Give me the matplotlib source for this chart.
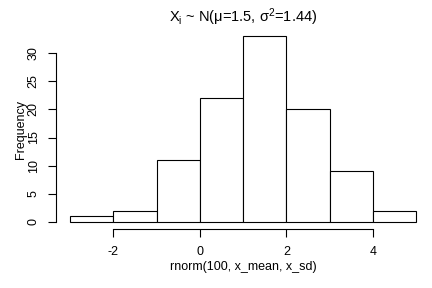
import numpy as np
import matplotlib
matplotlib.use('Agg')
import matplotlib.pyplot as plt

plt.rcParams['font.family'] = ['Liberation Sans', 'DejaVu Sans']
plt.rcParams['mathtext.fontset'] = 'custom'
plt.rcParams['mathtext.rm'] = 'Liberation Sans'
plt.rcParams['mathtext.it'] = 'Liberation Sans'
plt.rcParams['mathtext.sf'] = 'Liberation Sans'
plt.rcParams['axes.unicode_minus'] = False

# Histogram data (bin edges and counts)
BIN_EDGES = [-3, -2, -1, 0, 1, 2, 3, 4, 5]
COUNTS = [1, 2, 11, 22, 33, 20, 9, 2]
X_TICKS = [-2, 0, 2, 4]
Y_TICKS = [0, 5, 10, 15, 20, 25, 30]


def make_fig():
    fig01 = plt.figure(figsize=(4.32, 2.88), dpi=100)
    axs01 = fig01.add_axes([0.1306, 0.2035, 0.8644, 0.6965])

    edges = np.array(BIN_EDGES, dtype=float)
    axs01.bar(edges[:-1], COUNTS, width=np.diff(edges), align='edge',
              facecolor='white', edgecolor='black', linewidth=0.8)

    rng = edges[-1] - edges[0]
    axs01.set_xlim(edges[0] - 0.04*rng, edges[-1] + 0.04*rng)
    ymax = max(COUNTS)
    axs01.set_ylim(-0.04*ymax, ymax*1.04)

    for side in ['top', 'right']:
        axs01.spines[side].set_visible(False)
    axs01.spines['left'].set_bounds(Y_TICKS[0], Y_TICKS[-1])
    axs01.spines['bottom'].set_bounds(X_TICKS[0], X_TICKS[-1])
    axs01.spines['left'].set_linewidth(0.8)
    axs01.spines['bottom'].set_linewidth(0.8)

    axs01.set_xticks(X_TICKS)
    axs01.set_yticks(Y_TICKS)
    axs01.set_yticklabels([str(v) for v in Y_TICKS], rotation=90, va='center')
    axs01.tick_params(axis='both', direction='out', length=6, width=0.8,
                      labelsize=9, pad=6)

    axs01.set_xlabel('rnorm(100, x_mean, x_sd)', fontsize=9)
    axs01.set_ylabel('Frequency', fontsize=9)
    axs01.xaxis.set_label_coords(0.5, -0.16)
    axs01.yaxis.set_label_coords(-0.078, 0.5)
    axs01.set_title(r'X$_\mathrm{i}$ ~ N($\mathrm{\mu}$=1.5, $\mathrm{\sigma}^\mathrm{2}$=1.44)',
                    fontsize=10.5, pad=5)

    plt.savefig('out.png', dpi=100)
    plt.close()


if (__name__ == "__main__"):
    make_fig()
